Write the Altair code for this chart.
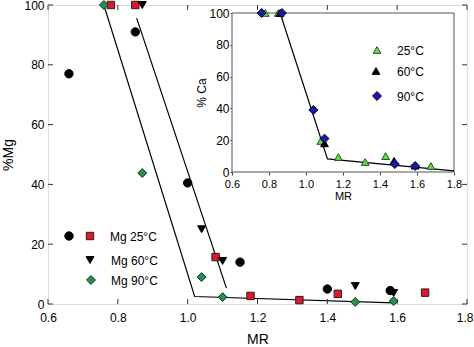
import altair as alt
import pandas as pd

# ---------------- data ----------------
x_ticks = [0.6, 0.8, 1.0, 1.2, 1.4, 1.6, 1.8]
y_ticks = [0, 20, 40, 60, 80, 100]

# main plot (%Mg vs MR)
circ_mr = [0.66, 0.85, 1.00, 1.15, 1.40, 1.58]
circ_mg = [77, 91, 40.5, 14, 5, 4.5]
sq_mr = [0.78, 0.85, 1.08, 1.18, 1.32, 1.43, 1.68]
sq_mg = [100, 100, 15.7, 2.7, 1.3, 3.4, 3.8]
tri_mr = [0.87, 1.04, 1.10, 1.48, 1.59]
tri_mg = [100, 25, 14.4, 6, 3.7]
dia_mr = [0.76, 0.87, 1.04, 1.10, 1.48, 1.59]
dia_mg = [100, 43.8, 9, 2.3, 0.7, 1.0]
fit1_mr = [0.76, 1.02, 1.59]
fit1_mg = [100, 2.5, 0.4]
fit2_mr = [0.854, 1.111]
fit2_mg = [95.6, 5.3]
legend_labels = ["Mg 25°C", "Mg 60°C", "Mg 90°C"]

# inset (% Ca vs MR)
in25_mr = [0.78, 0.85, 1.08, 1.175, 1.32, 1.43, 1.675]
in25_ca = [100, 100, 19.5, 9.4, 6.3, 10, 3.8]
in60_mr = [0.86, 1.10, 1.476, 1.59]
in60_ca = [100, 18, 7, 4]
in90_mr = [0.76, 0.87, 1.04, 1.10, 1.48, 1.59]
in90_ca = [100, 100, 39, 21, 5, 3.8]
infit_mr = [0.86, 1.116, 1.80]
infit_ca = [100, 8.2, 0.7]
inset_labels = ["25°C", "60°C", "90°C"]


def df(xs, ys):
    return pd.DataFrame({"MR": xs, "val": ys})


FONT = "Liberation Sans"
W, H = 419, 299
one = pd.DataFrame({"a": [0]})


def xs_main():
    return alt.Scale(domain=[0.6, 1.8], nice=False, zero=False)


def ys_main():
    return alt.Scale(domain=[0, 100], nice=False, zero=False)


main_x_axis = alt.Axis(values=x_ticks, format=".1f", ticks=False, domain=False, grid=False,
                       orient="bottom", labelPadding=8, labelFontSize=12, title="MR",
                       titleFontSize=14, titlePadding=9, titleFontWeight="normal",
                       labelFlush=False,
                       labelAlign={"condition": {"test": "datum.value >= 1.79", "value": "right"},
                                   "value": "center"},
                       labelOffset={"condition": {"test": "datum.value >= 1.79", "value": 6},
                                    "value": 0})
main_y_axis = alt.Axis(values=y_ticks, ticks=False, domain=False, grid=False, orient="left",
                       labelPadding=4, labelFontSize=12, title="%Mg", titleFontSize=14,
                       titlePadding=8, titleFontWeight="normal", labelFlush=False)


def mpts(d, shape, size, fill, stroke, axis=False):
    return alt.Chart(d).mark_point(shape=shape, size=size, filled=True, fill=fill,
                                   stroke=stroke, strokeWidth=1, opacity=1).encode(
        x=alt.X("MR:Q", scale=xs_main(), axis=main_x_axis if axis else None),
        y=alt.Y("val:Q", scale=ys_main(), axis=main_y_axis if axis else None))


def mline(d):
    return alt.Chart(d).mark_line(color="black", strokeWidth=1.2).encode(
        x=alt.X("MR:Q", scale=xs_main(), axis=None),
        y=alt.Y("val:Q", scale=ys_main(), axis=None))


xt = pd.DataFrame({"t": x_ticks})
yt = pd.DataFrame({"t": y_ticks})
tick_b = alt.Chart(xt).mark_rule(color="#333", strokeWidth=1).encode(
    x=alt.X("t:Q", scale=xs_main(), axis=None), y=alt.value(H), y2=alt.value(H - 5))
tick_t = alt.Chart(xt).mark_rule(color="#333", strokeWidth=1).encode(
    x=alt.X("t:Q", scale=xs_main(), axis=None), y=alt.value(0), y2=alt.value(5))
tick_l = alt.Chart(yt).mark_rule(color="#333", strokeWidth=1).encode(
    y=alt.Y("t:Q", scale=ys_main(), axis=None), x=alt.value(0), x2=alt.value(5))
tick_r = alt.Chart(yt).mark_rule(color="#333", strokeWidth=1).encode(
    y=alt.Y("t:Q", scale=ys_main(), axis=None), x=alt.value(W), x2=alt.value(W - 5))

RED, GREEN, GDARK = "#e3152a", "#2e8b57", "#0b3d20"


def sym(x, y, shape, size, fill, stroke):
    return alt.Chart(one).mark_point(shape=shape, size=size, filled=True, fill=fill,
                                     stroke=stroke, strokeWidth=1, opacity=1).encode(
        x=alt.value(x), y=alt.value(y))


def txt(x, y, s, size=12):
    return alt.Chart(one).mark_text(align="left", baseline="middle", fontSize=size,
                                    font=FONT, color="black").encode(
        x=alt.value(x), y=alt.value(y), text=alt.value(s))


# ---------------- inset ----------------
IX0, IX1, IY0, IY1 = 184, 406, 167, 8


def xs_in():
    return alt.Scale(domain=[0.6, 1.8], range=[IX0, IX1], nice=False, zero=False)


def ys_in():
    return alt.Scale(domain=[0, 100], range=[IY0, IY1], nice=False, zero=False)


in_x_axis = alt.Axis(values=x_ticks, format=".1f", orient="bottom", offset=-(H - IY0),
                     tickSize=3, tickColor="#444", domain=False, grid=False, labelPadding=3,
                     labelFontSize=11, title="MR", titleFontSize=11, titlePadding=1,
                     titleFontWeight="normal", labelFlush=False)
in_y_axis = alt.Axis(values=y_ticks, orient="left", offset=-IX0, tickSize=2, tickColor="#444",
                     domain=False, grid=False, labelPadding=1, labelFontSize=12,
                     title="% Ca", titleFontSize=12, titlePadding=0,
                     titleFontWeight="normal", labelFlush=False)

frame = alt.Chart(one).mark_rect(fill="white", stroke="#555", strokeWidth=1).encode(
    x=alt.value(IX0), x2=alt.value(IX1), y=alt.value(IY1), y2=alt.value(IY0))

in_line = alt.Chart(df(infit_mr, infit_ca)).mark_line(color="black", strokeWidth=1.2).encode(
    x=alt.X("MR:Q", scale=xs_in(), axis=in_x_axis),
    y=alt.Y("val:Q", scale=ys_in(), axis=in_y_axis))


def ipts(d, shape, size, fill, stroke):
    return alt.Chart(d).mark_point(shape=shape, size=size, filled=True, fill=fill,
                                   stroke=stroke, strokeWidth=1, opacity=1).encode(
        x=alt.X("MR:Q", scale=xs_in(), axis=None),
        y=alt.Y("val:Q", scale=ys_in(), axis=None))


LG, LGD, BLUE, BLUED = "#6fd34f", "#1d5a1d", "#1c1c9a", "#000040"

chart = alt.layer(
    # main plot
    mpts(df(circ_mr, circ_mg), "circle", 70, "black", "black", axis=True),
    mline(df(fit1_mr, fit1_mg)),
    mline(df(fit2_mr, fit2_mg)),
    mpts(df(sq_mr, sq_mg), "square", 55, RED, "#222"),
    mpts(df(tri_mr, tri_mg), "triangle-down", 64, "black", "black"),
    mpts(df(dia_mr, dia_mg), "diamond", 80, GREEN, GDARK),
    tick_b, tick_t, tick_l, tick_r,
    # main legend
    sym(21, 231, "circle", 70, "black", "black"),
    sym(42, 231, "square", 55, RED, "#222"),
    sym(42, 255, "triangle-down", 64, "black", "black"),
    sym(43, 275, "diamond", 80, GREEN, GDARK),
    txt(62, 232, legend_labels[0]),
    txt(63, 256, legend_labels[1]),
    txt(63, 276, legend_labels[2]),
    # inset
    frame,
    in_line,
    ipts(df(in25_mr, in25_ca), "triangle-up", 60, LG, LGD),
    ipts(df(in60_mr, in60_ca), "triangle-up", 60, "black", "black"),
    ipts(df(in90_mr, in90_ca), "diamond", 80, BLUE, BLUED),
    sym(329, 45, "triangle-up", 60, LG, LGD),
    sym(328, 66, "triangle-up", 60, "black", "black"),
    sym(329, 91, "diamond", 80, BLUE, BLUED),
    txt(349, 46, inset_labels[0]),
    txt(349, 67, inset_labels[1]),
    txt(349, 92, inset_labels[2]),
).resolve_scale(
    x="independent", y="independent"
).properties(
    width=W, height=H,
    padding={"left": 48, "top": 5, "right": 7, "bottom": 43},
    autosize=alt.AutoSizeParams(type="none"),
).configure_view(
    stroke="#333", strokeWidth=1.5
).configure_axis(
    labelFont=FONT, titleFont=FONT, labelColor="black", titleColor="black",
    titleFontWeight="normal"
).configure(background="white")

chart.save("out.html", embed_options={"renderer": "svg", "actions": False})
